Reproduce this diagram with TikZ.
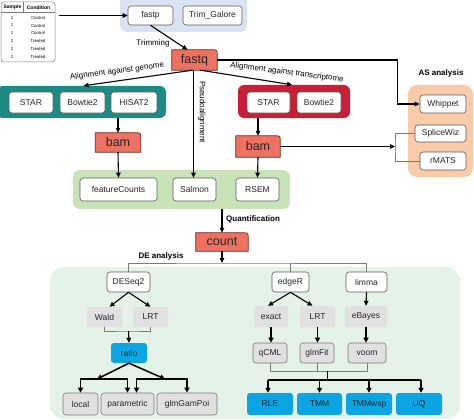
\documentclass[tikz,border=0pt]{standalone}
\usepackage{fontspec}
\setmainfont{Liberation Sans}
\usetikzlibrary{arrows.meta,calc,backgrounds}
\definecolor{ltblue}{HTML}{DAE3F3}
\definecolor{tealbg}{HTML}{1E8A84}
\definecolor{crim}{HTML}{C81E37}
\definecolor{orng}{HTML}{F9CBA8}
\definecolor{grn}{HTML}{C9E3B8}
\definecolor{mint}{HTML}{E4F2E8}
\definecolor{salmon}{HTML}{EE7262}
\definecolor{docborder}{HTML}{6A2418}
\definecolor{cyanbox}{HTML}{0BA5E3}
\definecolor{graybox}{HTML}{E1E1E1}
\definecolor{boxborder}{HTML}{5A5A5A}
\definecolor{linegray}{HTML}{7A7A7A}
\newcommand\lblfont{\fontsize{8.5}{10}\selectfont}
\newcommand\docfont{\fontsize{12.5}{14}\selectfont}
\newcommand\docbg[1]{\begin{pgfonlayer}{background}\filldraw[fill=salmon,draw=docborder,line width=0.7pt] (#1.south west) -- (#1.north west) -- ($(#1.north east)+(-5,0)$) .. controls (#1.north east) .. ($(#1.north east)+(0,5)$) -- (#1.south east) -- cycle;\end{pgfonlayer}}
\begin{document}
\begin{tikzpicture}[x=1pt,y=-1pt,
  sz/.style 2 args={minimum width=#1,minimum height=#2},
  bg/.style={draw=none,inner sep=0pt},
  wbox/.style={draw=boxborder,fill=white,rounded corners=3pt,line width=0.6pt,inner sep=0pt,font=\lblfont,text=black!85},
  gbox/.style={draw=none,fill=graybox,rounded corners=2pt,inner sep=0pt,font=\lblfont,text=black!85},
  gbbox/.style={draw=linegray,fill=graybox,rounded corners=3pt,line width=0.6pt,inner sep=0pt,font=\lblfont,text=black!85},
  cbox/.style={draw=none,fill=cyanbox,rounded corners=3pt,inner sep=0pt,font=\lblfont,text=black!85},
  doc/.style={draw=none,inner sep=0pt,font=\docfont,text=black!85},
  lab/.style={inner sep=0pt,font=\fontsize{8}{9}\selectfont},
  blab/.style={inner sep=0pt,font=\fontsize{8}{9}\selectfont\bfseries},
  th/.style={inner sep=0pt,font=\fontsize{5}{6}\selectfont\bfseries},
  td/.style={inner sep=0pt,font=\fontsize{4.3}{5}\selectfont},
  arr/.style={-{Triangle[length=5pt,width=4.5pt]},line width=1.1pt},
  thk/.style={-{Triangle[length=5pt,width=5pt]},line width=1.5pt},
  conn/.style={draw=linegray,line width=0.7pt}
]
\useasboundingbox (0,0) rectangle (474,420);

% container backgrounds
\node[bg,fill=ltblue,sz={127}{40},rounded corners=7pt] (bgtrim) at (183.5,12) {};
\node[bg,fill=tealbg,sz={169}{32},rounded corners=6pt] (bggenome) at (81.5,102) {};
\node[bg,fill=crim,sz={112}{33},rounded corners=6pt] (bgtrans) at (294,101.5) {};
\node[bg,fill=orng,sz={65}{92},rounded corners=9pt] (bgas) at (440.5,131) {};
\node[bg,fill=grn,sz={217}{39},rounded corners=7pt] (bgquant) at (181.5,189.5) {};
\node[bg,fill=mint,sz={410}{152},rounded corners=14pt] (bgde) at (255,343) {};

% sample table
\node[draw=linegray,rounded corners=3pt,sz={54}{60},line width=0.5pt,inner sep=0pt] (table) at (28,32) {};
\draw[linegray,line width=0.4pt] (table.west |- 0,12) -- (table.east |- 0,12);
\draw[linegray,line width=0.4pt] (table.north -| 23,0) -- (23,12);
\node[th] (h1) at (12.5,7.5) {Sample};
\node[th] (h2) at (38.5,7.5) {Condition};
\node[td] (r1a) at (12,18) {1};   \node[td] (r1b) at (38,18) {Control};
\node[td] (r2a) at (12,25.5) {1}; \node[td] (r2b) at (38,25.5) {Control};
\node[td] (r3a) at (12,33) {1};   \node[td] (r3b) at (38,33) {Control};
\node[td] (r4a) at (12,41) {2};   \node[td] (r4b) at (38,41) {Treated};
\node[td] (r5a) at (12,49) {2};   \node[td] (r5b) at (38,49) {Treated};
\node[td] (r6a) at (12,56.5) {2}; \node[td] (r6b) at (38,56.5) {Treated};

% trimming
\node[wbox,sz={45}{19}] (fastp) at (150.5,15.5) {fastp};
\node[wbox,sz={59}{19}] (trim) at (212.5,15.5) {Trim\_Galore};
\draw[arr,shorten <=4pt] (table.east |- fastp.west) -- (fastp.west);
\node[doc,sz={45}{20}] (fastq) at (194.5,60) {fastq};
\docbg{fastq}
\node[lab] (ltrim) at (153,43) {Trimming};
\draw[arr] (fastp.south) -- ([xshift=-7]fastq.north);

% alignment against genome
\node[wbox,sz={44}{21}] (star1) at (31,102.5) {STAR};
\node[wbox,sz={45}{21}] (bowtie1) at (82.5,102.5) {Bowtie2};
\node[wbox,sz={46}{21}] (hisat) at (134,102.5) {HISAT2};
\draw[arr] ([xshift=-2]fastq.south) -- ([xshift=2]bggenome.north);
\node[lab,rotate=7.5] (lgen) at (117,71.5) {Alignment against genome};
\node[doc,sz={45}{19}] (bam1) at (118,142.5) {bam};
\docbg{bam1}
\draw[arr] (bggenome.south -| bam1) -- (bam1.north);

% alignment against transcriptome
\node[wbox,sz={43}{21}] (star2) at (268.5,102.5) {STAR};
\node[wbox,sz={44}{21}] (bowtie2) at (319,102.5) {Bowtie2};
\draw[arr] ([xshift=6]fastq.south) -- ([xshift=-2]bgtrans.north);
\node[lab,rotate=-7.5] (ltrans) at (287,72.5) {Alignment against transcriptome};
\node[doc,sz={44}{21}] (bam2) at (258,146.5) {bam};
\docbg{bam2}
\draw[arr] (bgtrans.south -| bam2) -- (bam2.north);

% quantification
\node[wbox,sz={77}{23}] (fcounts) at (118.5,189.5) {featureCounts};
\node[wbox,sz={43}{23}] (salmon) at (194.5,189.5) {Salmon};
\node[wbox,sz={43}{23}] (rsem) at (257.5,189.5) {RSEM};
\draw[arr] (bam1.south) -- (fcounts.north);
\draw[arr] (bam2.south) -- (rsem.north);
\draw[arr] ([xshift=-1]fastq.south) -- ([xshift=-1]salmon.north);
\node[lab,rotate=-90] (lpseudo) at (202,112) {Pseudoalignment};

% AS analysis
\node[blab] (las) at (441,73) {AS analysis};
\node[wbox,sz={46}{18}] (whippet) at (443,104) {Whippet};
\node[wbox,sz={51}{17}] (splicewiz) at (440.5,133.5) {SpliceWiz};
\node[wbox,sz={46}{18}] (rmats) at (443,161) {rMATS};
\draw[arr] (fastq.east) -- ++(180,0) |- (whippet.west);
\coordinate (asj) at (395,147);
\draw[conn] (splicewiz.west) -| (asj) |- (rmats.west);
\draw[arr] (bam2.east) -- (bam2.east -| asj);

% count
\node[doc,sz={52}{18}] (count) at (222,242) {count};
\docbg{count}
\draw[arr] (bgquant.south -| count) -- (count.north);
\node[blab,anchor=west] (lquant) at (226,219.5) {Quantification};
\node[blab] (lde) at (161,256) {DE analysis};

% DE analysis
\node[wbox,sz={43}{20}] (deseq) at (128.5,282) {DESeq2};
\node[wbox,sz={37}{20}] (edger) at (290.5,282) {edgeR};
\node[wbox,sz={41}{20}] (limma) at (366.5,282) {limma};
\coordinate (dej) at (222,263);
\draw[arr] (count.south) -- (dej);
\draw[conn] (deseq.north) |- (dej) -- (dej -| limma) -- (limma.north);
\draw[conn] (edger.north) -- (edger.north |- dej);

\node[gbox,sz={35}{20}] (wald) at (104.5,317) {Wald};
\node[gbox,sz={35}{20}] (lrt1) at (150.5,317) {LRT};
\draw[arr] (deseq.south) -- ([xshift=5]wald.north);
\draw[arr] (deseq.south) -- (lrt1.north);
\coordinate (wlj) at (128.5,331);
\draw[conn] (wald.south) |- (wlj) -| (lrt1.south);
\node[cbox,sz={36}{20}] (ratio) at (129,353) {ratio};
\draw[arr] (wlj) -- (ratio.north);

\node[gbbox,sz={35}{22}] (local) at (80.5,404) {local};
\node[gbbox,sz={53}{22}] (param) at (127.5,404) {parametric};
\node[gbbox,sz={60}{22}] (glmgp) at (187,404) {glmGamPoi};
\coordinate (lj) at (97,379);
\coordinate (rj) at (165,379);
\draw[thk] (ratio.south) -- (lj);
\draw[thk] (ratio.south) -- (rj);
\draw[thk] (lj) -| (local.north);
\draw[thk] (lj) -| (param.north);
\draw[thk] (rj) -| ([xshift=9]param.north);
\draw[thk] (rj) -| (glmgp.north);

\node[gbox,sz={34}{21}] (exact) at (271,316.5) {exact};
\node[gbox,sz={35}{21}] (lrt2) at (317.5,316.5) {LRT};
\node[gbox,sz={42}{21}] (ebayes) at (366,316.5) {eBayes};
\draw[arr] (edger.south) -- ([xshift=-3]exact.north);
\draw[arr] (edger.south) -- ([xshift=-5]lrt2.north);
\draw[arr] (limma.south) -- (ebayes.north);

\node[gbbox,sz={34}{20}] (qcml) at (270,353) {qCML};
\node[gbbox,sz={34}{20}] (glmfit) at (317,353) {glmFit};
\node[gbbox,sz={38}{20}] (voom) at (367,353) {voom};
\draw[thk] (exact.south) -- (exact.south |- qcml.north);
\draw[thk] (lrt2.south) -- (lrt2.south |- glmfit.north);
\draw[thk] (ebayes.south) -- (ebayes.south |- voom.north);

\node[cbox,sz={46}{22}] (rle) at (270,404) {RLE};
\node[cbox,sz={45}{22}] (tmm) at (319.5,404) {TMM};
\node[cbox,sz={46}{22}] (tmmwsp) at (369,404) {TMMwsp};
\node[cbox,sz={46}{22}] (uq) at (419,404) {UQ};
\coordinate (bj) at (327,371);
\coordinate (tj) at (327,380);
\draw[conn] (qcml.south) |- (bj -| voom) -- (voom.south);
\draw[conn] (glmfit.south) -- (glmfit.south |- bj);
\draw[line width=0.9pt] (bj) -- (tj);
\draw[line width=1.5pt] ([xshift=-2]tj -| rle) -- ([xshift=2]tj -| uq);
\draw[thk] ([xshift=-2]tj -| rle) -- ([xshift=-2]rle.north);
\draw[thk] (tj -| tmm) -- (tmm.north);
\draw[thk] (tj -| tmmwsp) -- (tmmwsp.north);
\draw[thk] ([xshift=2]tj -| uq) -- ([xshift=2]uq.north);
\end{tikzpicture}
\end{document}
